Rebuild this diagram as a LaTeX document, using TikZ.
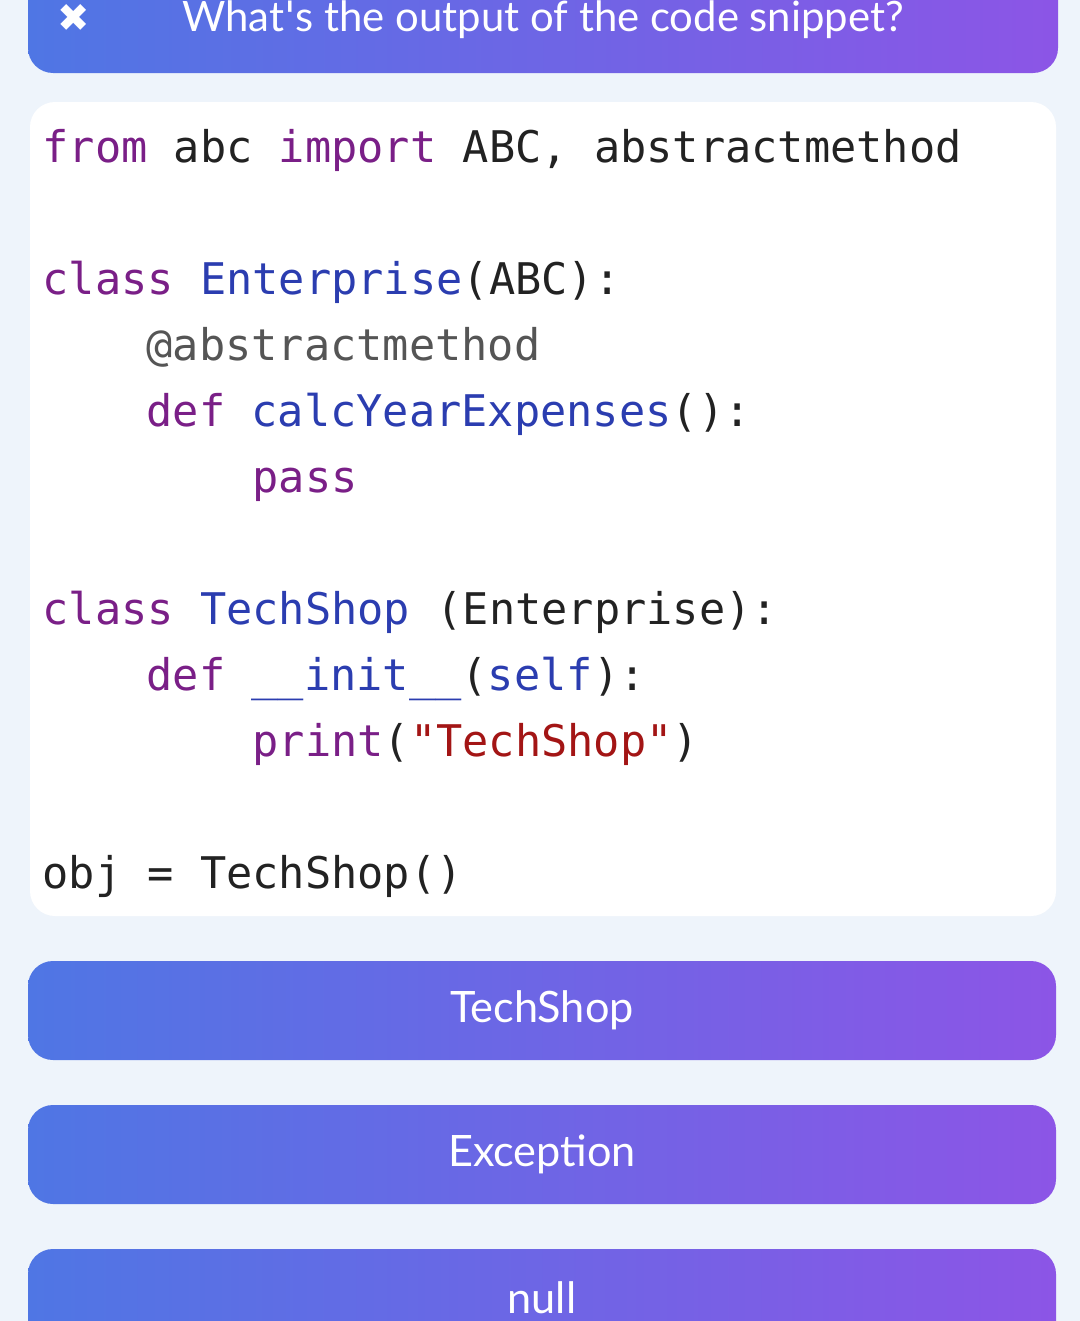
\documentclass[tikz,border=0pt]{standalone}
\usepackage{fontspec}
\setmainfont{Lato}
\setmonofont{DejaVu Sans Mono}
\newfontfamily\symfont{DejaVu Sans}
\usetikzlibrary{positioning}
\definecolor{pagebg}{HTML}{EEF4FB}
\definecolor{barleft}{HTML}{4F76E4}
\definecolor{barright}{HTML}{8C55E6}
\definecolor{kwcol}{HTML}{7A1F87}
\definecolor{namecol}{HTML}{2B3DB0}
\definecolor{strcol}{HTML}{A31515}
\definecolor{deccol}{HTML}{555555}
\definecolor{txtcol}{HTML}{222222}
\newcommand{\kw}[1]{\textcolor{kwcol}{#1}}
\newcommand{\nm}[1]{\textcolor{namecol}{#1}}
\newcommand{\st}[1]{\textcolor{strcol}{#1}}
\tikzset{
  codeline/.style={anchor=base west, inner sep=0pt, text=txtcol,
    font=\ttfamily\fontsize{12.4}{14}\selectfont},
  optbtn/.style={left color=barleft, right color=barright, rounded corners=0.25cm},
  opttext/.style={text=white, font=\fontsize{12.3}{15}\selectfont}
}
\begin{document}
\begin{tikzpicture}[x=0.01cm,y=-0.01cm]
\fill[pagebg] (0,0) rectangle (1080,1321);
\useasboundingbox (0,0) rectangle (1080,1321);
% title bar
\shade[optbtn] (28,-40) rectangle (1058,73);
\node[text=white, font=\symfont\fontsize{11}{13}\selectfont] (close) at (74,18) {✖};
\node[opttext, font=\fontsize{11.9}{14}\selectfont] (title) at (543,20) {What{\symfont\char"27}s the output of the code snippet?};
% code box
\fill[white, rounded corners=0.25cm] (30,102) rectangle (1056,916);
\node[codeline] (l1) at (42,162) {\kw{from} abc \kw{import} ABC, abstractmethod};
\node[codeline] (l2) at (42,294) {\kw{class} \nm{Enterprise}(ABC):};
\node[codeline] (l3) at (146,360) {\textcolor{deccol}{@abstractmethod}};
\node[codeline] (l4) at (146,426) {\kw{def} \nm{calcYearExpenses}():};
\node[codeline] (l5) at (252,492) {\kw{pass}};
\node[codeline] (l6) at (42,624) {\kw{class} \nm{TechShop} (Enterprise):};
\node[codeline] (l7) at (146,690) {\kw{def} \nm{\_\_init\_\_}(\nm{self}):};
\node[codeline] (l8) at (252,756) {\kw{print}(\st{"TechShop"})};
\node[codeline] (l9) at (42,888) {obj = TechShop()};
% answer options
\shade[optbtn] (28,961) rectangle (1056,1060);
\node[opttext] (optA) at (542,1010) {TechShop};
\shade[optbtn] (28,1105) rectangle (1056,1204);
\node[opttext] (optB) at (542,1154) {Exception};
\shade[optbtn] (28,1249) rectangle (1056,1360);
\node[opttext] (optC) at (542,1298) {null};
\end{tikzpicture}
\end{document}
